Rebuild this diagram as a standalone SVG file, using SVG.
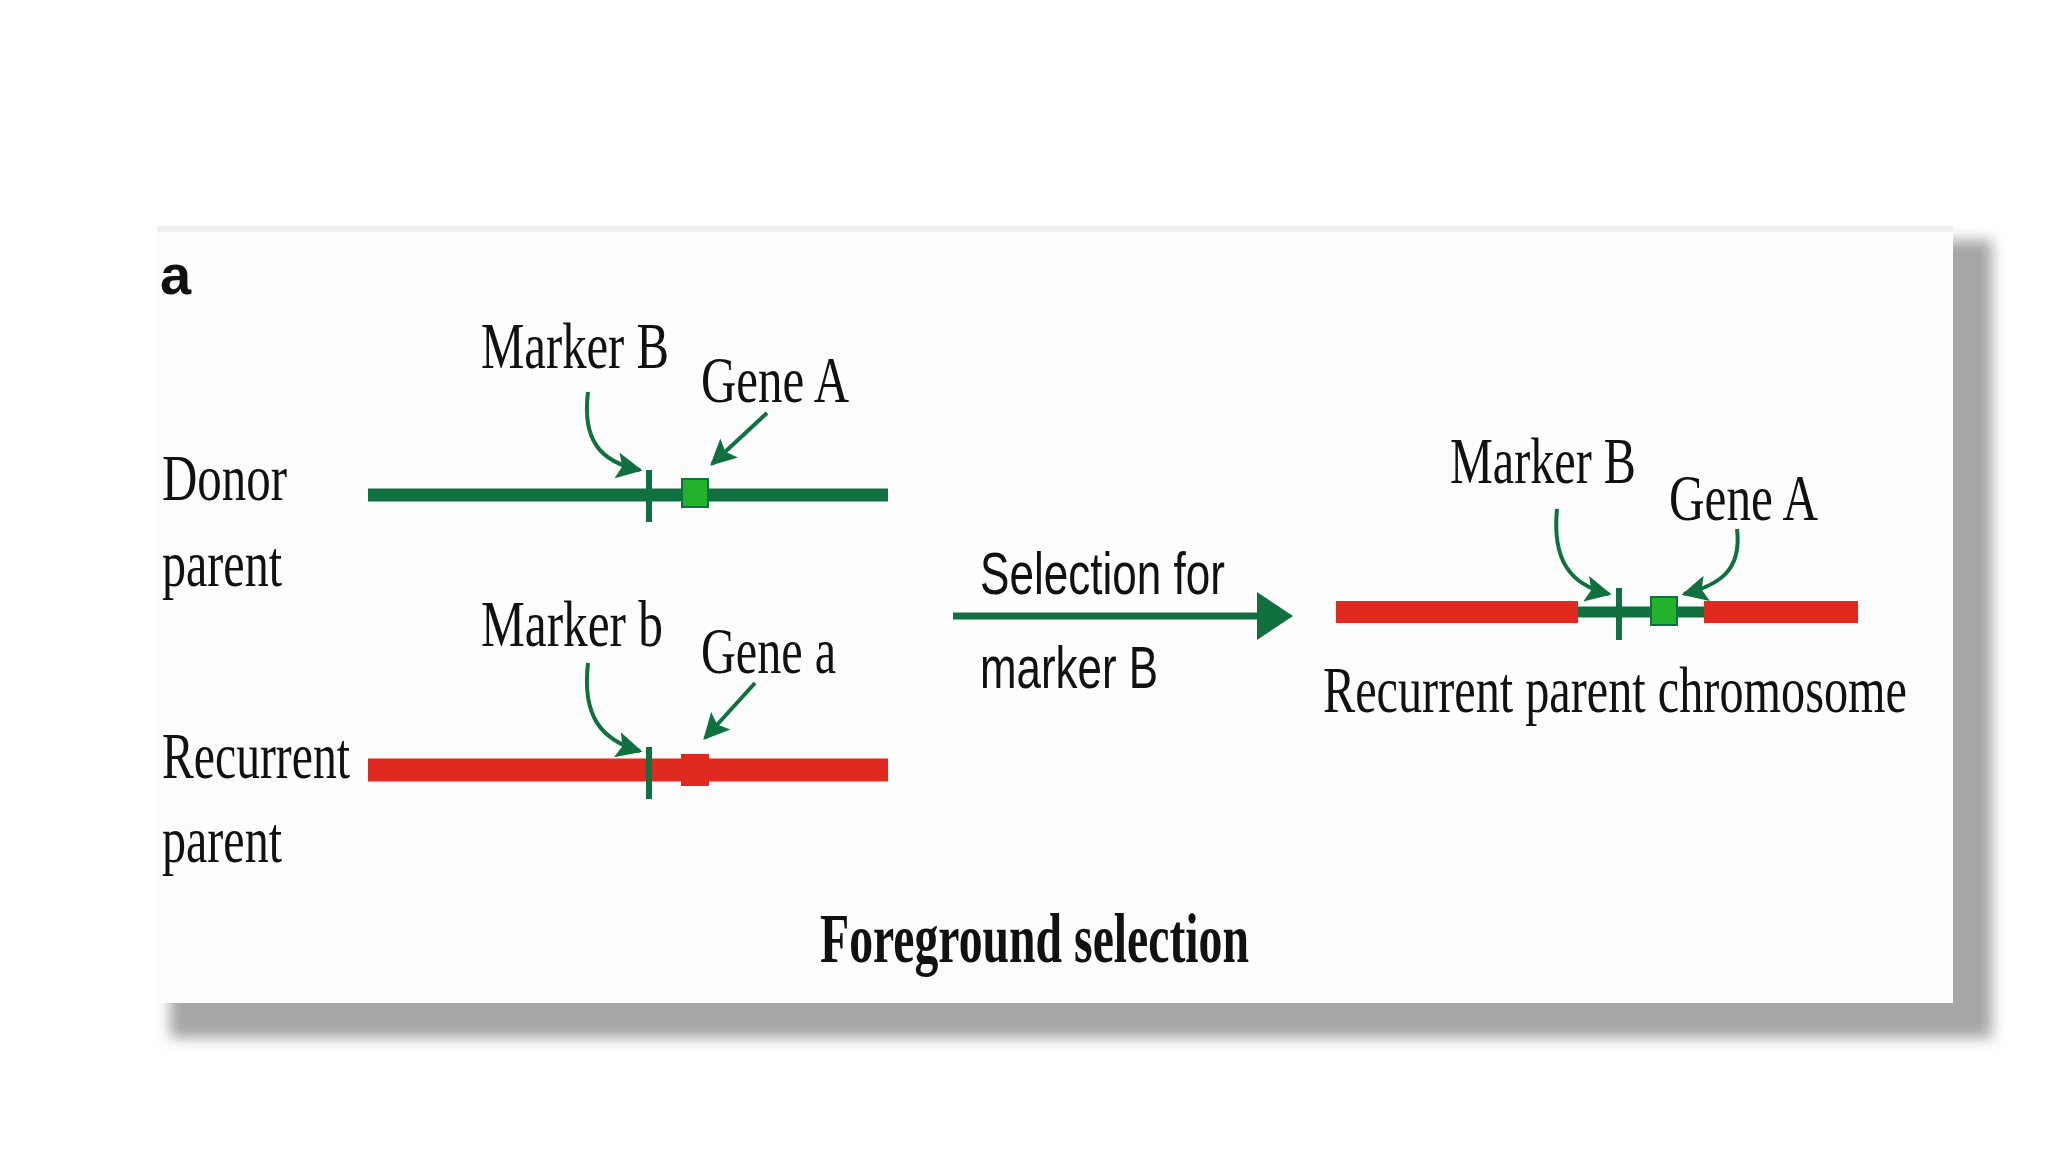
<svg xmlns="http://www.w3.org/2000/svg" width="2048" height="1152" viewBox="0 0 2048 1152">
<defs>
<marker id="ah" viewBox="0 0 10 10" refX="9" refY="5" markerWidth="7" markerHeight="6.5" orient="auto" markerUnits="strokeWidth"><path d="M0,0 L10,5 L0,10 L2,5 z" fill="#11703f"/></marker>
<filter id="bl"><feGaussianBlur stdDeviation="7"/></filter>
</defs>
<style>
.t{font-family:"Liberation Serif",serif;font-size:66px;fill:#111}
.s{font-family:"Liberation Sans",sans-serif;font-size:60px;fill:#111}
.dg{stroke:#11703f;fill:none}
.pt{stroke:#11703f;stroke-width:4;fill:none;marker-end:url(#ah)}
</style>
<rect width="2048" height="1152" fill="#fff"/>
<g id="panel">
<rect x="170" y="240" width="1822" height="798" fill="#a6a6a6" filter="url(#bl)"/>
<rect x="157" y="229" width="1796" height="774" fill="#fdfdfd"/>
<line x1="157" y1="229" x2="1953" y2="229" stroke="#eee" stroke-width="6"/>
</g>
<text x="160" y="294" style="font-family:'Liberation Sans',sans-serif;font-weight:bold;font-size:56px;fill:#111">a</text>
<g id="donor">
<text class="t" x="162" y="500" textLength="125" lengthAdjust="spacingAndGlyphs">Donor</text>
<text class="t" x="162" y="586" textLength="120" lengthAdjust="spacingAndGlyphs">parent</text>
<line class="dg" x1="368" y1="495" x2="888" y2="495" stroke-width="13"/>
<line class="dg" x1="649" y1="470" x2="649" y2="522" stroke-width="6"/>
<rect x="682" y="479" width="26" height="28" fill="#22b22b" stroke="#11703f" stroke-width="2"/>
<text class="t" x="481" y="368" textLength="188" lengthAdjust="spacingAndGlyphs">Marker B</text>
<text class="t" x="701" y="402" textLength="148" lengthAdjust="spacingAndGlyphs">Gene A</text>
</g>
<g id="recurrent">
<text class="t" x="162" y="778" textLength="188" lengthAdjust="spacingAndGlyphs">Recurrent</text>
<text class="t" x="162" y="862" textLength="120" lengthAdjust="spacingAndGlyphs">parent</text>
<line x1="368" y1="770" x2="888" y2="770" stroke="#e02a20" stroke-width="23"/>
<rect x="681" y="754" width="28" height="32" fill="#e02a20"/>
<line class="dg" x1="649" y1="747" x2="649" y2="799" stroke-width="6"/>
<text class="t" x="481" y="646" textLength="182" lengthAdjust="spacingAndGlyphs">Marker b</text>
<text class="t" x="701" y="673" textLength="135" lengthAdjust="spacingAndGlyphs">Gene a</text>
</g>
<g id="selection">
<text class="s" x="980" y="594" textLength="245" lengthAdjust="spacingAndGlyphs">Selection for</text>
<text class="s" x="980" y="688" textLength="178" lengthAdjust="spacingAndGlyphs">marker B</text>
</g>
<g id="result">
<line x1="1336" y1="612" x2="1578" y2="612" stroke="#e02a20" stroke-width="22"/>
<line x1="1578" y1="612" x2="1704" y2="612" stroke="#11703f" stroke-width="11"/>
<line x1="1704" y1="612" x2="1858" y2="612" stroke="#e02a20" stroke-width="22"/>
<line class="dg" x1="1619" y1="588" x2="1619" y2="640" stroke-width="6"/>
<rect x="1651" y="597" width="26" height="28" fill="#22b22b" stroke="#11703f" stroke-width="2"/>
<text class="t" x="1450" y="483" textLength="186" lengthAdjust="spacingAndGlyphs">Marker B</text>
<text class="t" x="1669" y="520" textLength="149" lengthAdjust="spacingAndGlyphs">Gene A</text>
<text class="t" x="1323" y="712" textLength="584" lengthAdjust="spacingAndGlyphs">Recurrent parent chromosome</text>
</g>
<text x="820" y="962" textLength="429" lengthAdjust="spacingAndGlyphs" style="font-family:'Liberation Serif',serif;font-weight:bold;font-size:70px;fill:#111">Foreground selection</text>
<g id="connectors">
<path class="pt" d="M588,392 C582,440 600,462 640,470"/>
<path class="pt" d="M767,413 L712,464"/>
<path class="pt" d="M588,663 C582,715 600,740 640,751"/>
<path class="pt" d="M755,683 L705,738"/>
<path class="pt" d="M1557,509 C1552,560 1570,585 1609,594"/>
<path class="pt" d="M1737,529 C1742,570 1720,585 1684,594"/>
<line x1="953" y1="616" x2="1265" y2="616" stroke="#11703f" stroke-width="7"/>
<path d="M1257,592 L1293,616 L1257,640 z" fill="#11703f"/>
</g>
</svg>
